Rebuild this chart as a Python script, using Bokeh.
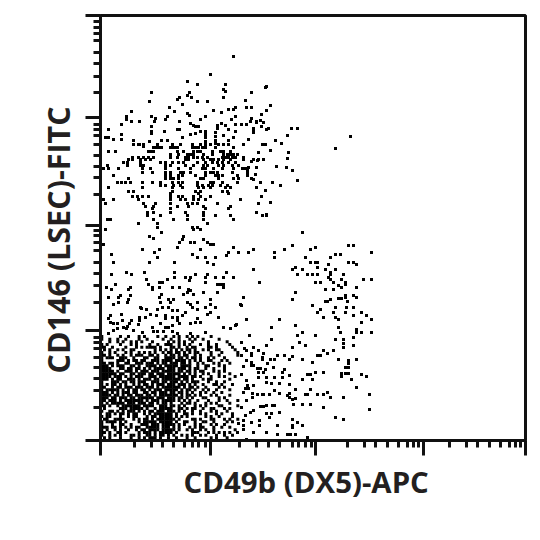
from bokeh.plotting import figure
from bokeh.models import Range1d, FixedTicker, CustomLabelingPolicy, Title
from bokeh.embed import file_html
from bokeh.resources import INLINE

x_label = "CD49b (DX5)-APC"
y_label = "CD146 (LSEC)-FITC"
x_major = [0, 110, 215, 323, 425]
y_major = [0, 110, 215, 323, 425]
x_minor = [34, 51, 62, 73, 84, 92, 98, 105, 139, 156, 168, 179, 192, 198, 205, 211,
           247, 264, 275, 287, 298, 307, 313, 318, 349, 366, 377, 389, 400, 409, 415, 420]
y_minor = [33, 50, 62, 73, 83, 92, 98, 103, 138, 155, 167, 178, 190, 198, 205, 210,
           246, 263, 274, 285, 296, 305, 311, 316, 348, 364, 377, 388, 400, 407, 413, 419]

# events in the upper population (channel x, channel y)
top_events = [(133,384),(110,366),(87,359),(97,356),(125,356),(123,351),(125,349),(51,348),(151,348),(89,348),
(87,345),(91,343),(79,343),(77,341),(123,343),(49,339),(97,339),(107,339),(82,336),(69,333),(146,333),(151,333),
(135,333),(74,329),(31,329),(113,330),(128,331),(133,331),(121,328),(87,327),(89,325),(26,324),(26,321),(51,324),
(67,324),(65,321),(55,322),(54,319),(105,324),(100,321),(135,324),(131,321),(151,322),(156,319),(31,319),(39,319),
(79,319),(21,316),(51,314),(90,317),(93,315),(95,314),(98,314),(117,315),(121,317),(125,315),(135,316),(141,316),
(146,316),(150,319),(153,312),(153,308),(8,311),(51,309),(51,307),(64,309),(79,311),(77,311),(100,309),(105,309),
(117,312),(128,311),(135,309),(21,306),(21,301),(5,303),(8,303),(13,301),(33,300),(33,296),(39,296),(43,294),
(49,299),(61,300),(67,300),(82,303),(90,306),(95,307),(105,306),(105,303),(105,299),(105,296),(115,308),(115,304),
(115,300),(115,297),(123,305),(128,300),(133,303),(143,296),(148,301),(166,354),(166,330),(161,326),(156,318),
(163,318),(161,314),(166,311),(153,311),(162,296),(158,288),(151,279),(156,273),(148,273),(147,270),(153,261),
(156,253),(140,241),(161,244),(156,228),(166,226),
(191,312),(197,312),(187,305),(181,297),(188,288),(187,282),(192,270),(197,260),(180,255),(165,250),(170,238),
(162,225),(172,258),(176,274),(170,290),(157,280),(165,296),(175,300),(186,273),(155,266),(160,258),(250,304),
(235,292),(165,353),(145,340),(170,335),(160,320),(168,312)]

# events of the same population, by channel y row
upper_rows_y = [296,293,289,286,283,281,278,275,272,268,265,262,258,255,253,249,247,244,241,237,234,232,228,225,221,217]
upper_rows_x = [
[33,38,43,57,72,80,92,100,110,118,123,128,143],
[53,56,58,61,70,73,75,77,92,95,98,102,105,115,133],
[8,15,48,51,53,77,83,93,97,100,112,120,123,130],
[70,78,87,90,93,103,112,123,127,130,133,137],
[32,38,43,48,53,70,77,85,88,93,97,102,107,122,125,128,132,135,143],
[28,32,40,45,50,85,88,103,110,113,118,123,130,143,153,158,163],
[23,27,40,60,65,72,78,83,97,105,112,117,122,128,135],
[7,27,40,43,65,70,85,93,103,107,118,123,132,138],
[3,8,18,42,50,65,78,90,102,105,113,122,133,142,145],
[42,52,65,70,80,83,90,105,110,113,117,132,147],
[13,65,70,78,82,95,105,115,118,122,137,147],
[28,65,70,73,78,100,103,118,133,138,151],
[17,21,25,30,42,52,60,72,78,82,97,110,113,122,137],
[60,65,73,80,97,102,108,112,120,127],
[8,42,72,82,98,103,110,125,130,156],
[28,33,72,95,100,122,127],
[70,98,128],
[32,37,42,48,70,78,82,93,100,110,161],
[3,13,38,70,80,85,93,98,105,140],
[5,43,55,70,87,92,97,117,158],
[45,53,77,88,103,130],
[52,70,105,128],
[47,53,70,85,103,156],
[47,60,87,103,115,130,166],
[7,10,53,73,87,103,133],
[38,57,107]]

# events between the upper and the lower population
middle_events = [(5,211),(57,213),(61,208),(92,213),(97,213),(93,211),(100,211),(49,204),(53,202),(83,204),(82,201),
(79,198),(90,198),(94,198),(103,201),(107,198),(110,196),(113,196),(3,196),(77,193),(100,191),(42,191),(59,191),
(54,188),(133,193),(138,188),(128,188),(126,185),(11,186),(57,183),(92,186),(97,183),(105,183),(115,183),(107,178),
(113,176),(13,178),(49,178),(74,178),(26,168),(44,168),(74,168),(126,168),(11,166),(31,166),(74,163),(85,163),
(90,163),(95,166),(107,166),(105,163),(115,163),(123,163),(133,163),(46,161),(89,160),(105,158),(67,161),(59,158),
(62,158),(48,156),(6,153),(15,156),(11,151),(30,153),(28,151),(52,153),(52,151),(59,153),(72,153),(79,153),(117,156),
(120,156),(123,156),(123,153),(88,151),(90,150),(103,148),(117,148),(87,148),(83,146),(93,146),(61,146),(59,143),
(20,145),(30,145),(8,143),(18,143),(28,141),(27,138),(68,141),(73,141),(70,138),(110,141),(18,138),(13,136),(60,138),
(97,138),(87,138),(90,136),(105,133),(110,136),(115,133),(40,133),(41,132),(62,133),(68,133),(92,133),(46,131),
(57,131),(77,130),(97,131),(107,126),(110,128),(118,123),(140,136),(39,123),(39,120),(45,123),(50,126),(56,125),
(65,125),(65,122),(72,130),(72,123),(77,123),(77,120),(82,125),(85,128),(97,122),(100,118),(95,118),(90,117),(10,125),
(8,122),(21,126),(22,120),(10,118),(13,117),(17,117),(31,120),(29,117),(23,113),(27,114),(38,116),(60,117),(65,113),
(72,115),(79,117),(123,113),(130,112),(136,116),(105,108),(90,107),(52,113),(53,109),(57,109),(63,109),(68,113),
(72,109),(77,107),(42,108),(26,112),(33,110),(8,107),(13,110),(17,112)]

# events of the right-hand population and the sparse lower right
right_events = [(202,208),(148,188),(153,191),(174,188),(174,183),(184,191),(192,195),(210,191),(215,193),(248,195),
(253,195),(271,188),(205,183),(230,183),(235,186),(240,186),(210,178),(215,178),(217,178),(228,176),(248,178),(253,178),
(256,176),(217,173),(195,173),(192,171),(202,171),(225,171),(235,171),(230,168),(230,166),(153,171),(197,166),(207,166),
(212,166),(217,166),(243,166),(228,163),(230,161),(233,158),(241,161),(245,158),(245,156),(215,158),(220,158),(263,161),
(271,161),(159,158),(238,155),(241,153),(256,153),(225,151),(233,151),(195,148),(143,143),(192,141),(245,145),(245,143),
(238,142),(241,142),(230,141),(227,139),(225,139),(253,145),(256,143),(247,139),(141,135),(212,135),(235,133),(253,133),
(246,133),(220,131),(217,128),(233,128),(245,128),(261,128),(253,125),(266,125),(223,123),(235,123),(238,121),(146,121),
(179,121),(271,121),(261,118),(195,115),(135,115),(171,113),(238,113),(256,111),(256,108),(261,108),(271,108),(240,108),
(202,108),(197,105),(149,105),(215,105),(253,103),(171,101),(235,101),(243,101),(243,97),(199,98),(205,95),(166,95),
(253,95),(243,93),(192,93),(153,93),(146,90),(158,90),(163,87),(223,90),(227,87),(233,90),(217,85),(220,85),(151,87),
(151,85),(177,85),(184,85),(192,84),(189,81),(162,83),(162,81),(170,81),(174,81),(202,81),(212,78),(238,81),(256,81),
(248,80),(248,77),(151,78),(151,75),(153,75),(167,77),(245,73),(248,73),(157,72),(160,72),(165,71),(173,73),(184,71),
(182,68),(182,63),(158,68),(158,63),(163,68),(166,63),(174,63),(189,65),(207,66),(210,66),(215,68),(223,68),(241,67),
(241,64),(245,67),(248,67),(261,66),(266,64),(202,61),(212,61),(251,61),(166,58),(171,57),(179,57),(189,56),(256,53),
(210,51),(147,55),(145,52),(148,52),(153,55),(174,50),(179,47),(189,47),(189,43),(187,45),(192,41),(227,48),(217,46),
(223,46),(205,46),(207,46),(195,51),(195,42),(269,46),(230,43),(243,43),(163,46),(169,46),(152,47),(152,43),(157,46),
(162,46),(193,36),(202,36),(210,36),(223,33),(166,35),(163,34),(160,34),(172,35),(174,35),(269,31),(166,27),(171,27),
(179,28),(153,30),(150,28),(235,23),(243,21),(169,23),(192,21),(192,15),(192,13),(197,18),(202,15),(177,15),(159,20),
(159,15),(143,20),(151,18),(177,6),(187,6),(190,6),(195,6),(166,8),(153,8),(143,11),(207,3),(146,1),(138,17),(137,8),
(141,98),(144,92),(141,85),(146,80),(143,74),(141,66),(146,60),(143,48),(146,40),(141,33),(145,25),(143,15)]

# the dense lower population: one character per cytometer bin, top row first
dense_left = [
"#......#..#...#.#....#..#.","#..#..#..#....#..#.....#..","...#..#.#..#.#.#...#.....#","#.#....#...#.#....#..#..##",
"##..#....#...#.#.####.#...",".#.#..#.#..##.......#.#.#.","#..#.#...#.#..#.#.#.#..#.#","##.#..#.#..#.###..##.#..#.",
"#.###..###..#...##..##..##","#.....###.#.##.##..###.###","##.##.#..##..###.###.#.##.","###.#.###..##.#..####.#.##",
"####...##.##.##.#.#.####.#","#####.#..###.#.###.###.###","######.##..##.###.##.###.#","####.###.#.#.###..###.####",
"###.#.##..###.#.###.##.###","#...###.##.##.###..###.##.","#.#.##.#.#..#.#.##.#.###.#","##..#.##.###.###.###.#.###",
"#.#####.#.#.##.##.#.###.##","###.#.#.###.##..##.##.###.","####.##.#.##.###.##.#.####","###.##.###.##.######.###.#",
"##.###.#.#######.#.###.###","#.#.#####.###.###.##.#.##.","##.#..#.#######.####..###.",".#.....###.#####.#..#.####",
"#..##.#.#.###.#.#.##.###.#","..##.#.##.#.##..#.#.######","#.##...#..#.##...#.##.####",".##..####...#.#.##.#.#####",
"#.####.#.#....#.#####.####","#...#..##..#...###.###.###","###.##.#.#.#.##..#####.###","#.#..#.#..#..#.##.####.###",
"##.#..##.#....#.###.#.####","#..#.#.#...##.#..##.#.##.#",".#.#...#...#..#.#.###.#..#"]
dense_right = [
".#.#..#.#.#....#..........","#..#...#.#..#.....#.......",".#.#.#..#.....#......#....","#..#.#.#...#..#..#....#...",
"##.#..#.##....##.#.....#..","#.#.#.##.#..#.#..##.....#.","#.##.#.#.##....#...#.....#","##.#.##..#.#...#..#......#",
"##.##.#.##.#..#.#...#.....","#.####.#.#.#..##...#.#....","###.##.#..#.#...#.#...#...","###.####..#..##...#.#.....",
"##.###.#.##..#..#...#.....","##.##.##.#.##...#.#.#.....","####.#.#.#..#.#...#...#...","##.####.##.#...#..#.#...#.",
"####.##.#...#.##......#...","###.#.#.###...#..#..#.....","##.###.#.#..#...##.#...#..","####.#.##.#..#....#.#.....",
"###.#.##.#..#.#..#....#...","##.##.#.#..#.#..#..#......","###.#.##.#.#...#.#....#...","##.##.#.#...##....#.#.....",
"##.#.#.#..#...#...#..#...#","#...#.##.#...#.#.#....#...","##.#.#...#.#.#....##.....#","#..##.#.##..#..##...#.#...",
"##.#.#..#..#...#.#...#....","#.#..##.#..#.#...#.#...#..","#.#.#.#......#.#..#....#..","##.#....##.#...##...#.#..#",
"#.#..##..#..##..#....#.#..","##.#.#...#.#...#.#..#.....",".#.#...#.#.##...#..#..#...","##.#..#.#..#.#..#.......#.",
"#.#.....###...#.#.#.#.#...",".#..#.#.#..#.#...#..#..#..","..#...#..#.....#.#...#...."]
dense_top_channel = 104
bin_width = 2.667

xs, ys = [], []
for px, py in top_events + middle_events + right_events:
    xs.append(px); ys.append(py)
for ry, row in zip(upper_rows_y, upper_rows_x):
    for vx in row:
        xs.append(vx); ys.append(ry)
for r, (a, b) in enumerate(zip(dense_left, dense_right)):
    for c, ch in enumerate(a + b):
        if ch == "#":
            xs.append(1.3 + c * bin_width)
            ys.append(dense_top_channel - r * bin_width)

INK = "#111111"
p = figure(width=532, height=532, frame_width=425, frame_height=425,
           x_range=Range1d(0, 425), y_range=Range1d(0, 425),
           output_backend="svg", toolbar_location=None,
           min_border_left=100, min_border_right=7, min_border_top=15, min_border_bottom=92)
p.scatter(xs, ys, marker="square", size=3, fill_color="black", line_color=None)

p.grid.visible = False
p.background_fill_color = "white"
p.outline_line_color = INK
p.outline_line_width = 3
p.outline_line_alpha = 1

p.xaxis.ticker = FixedTicker(ticks=x_major, minor_ticks=x_minor)
p.yaxis.ticker = FixedTicker(ticks=y_major, minor_ticks=y_minor)
no_labels = CustomLabelingPolicy(code="return []")
for ax in (p.xaxis[0], p.yaxis[0]):
    ax.axis_line_color = INK
    ax.axis_line_width = 3
    ax.major_tick_line_color = INK
    ax.major_tick_line_width = 3
    ax.major_tick_in = 0
    ax.major_tick_out = 15
    ax.minor_tick_line_color = INK
    ax.minor_tick_line_width = 3
    ax.minor_tick_in = 0
    ax.minor_tick_out = 7
    ax.major_label_policy = no_labels
    ax.major_label_text_font_size = "1px"
    ax.major_label_standoff = 0

p.add_layout(Title(text=x_label, align="left", offset=83, standoff=1, text_font="Open Sans",
                   text_font_style="bold", text_font_size="29.4px", text_color="#231f20"), "below")
p.add_layout(Title(text=y_label, align="left", offset=67, standoff=4, text_font="Open Sans",
                   text_font_style="bold", text_font_size="30.5px", text_color="#231f20"), "left")

open("out.html", "w").write(file_html(p, INLINE))
